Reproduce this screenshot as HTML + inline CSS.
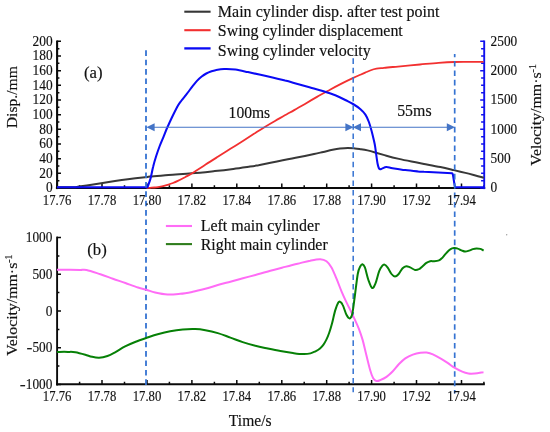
<!DOCTYPE html>
<html><head><meta charset="utf-8"><title>Cylinder displacement and velocity</title>
<style>html,body{margin:0;padding:0;background:#fff}svg{display:block}text{font-family:"Liberation Serif","Times New Roman",serif;fill:#111;stroke:#111;stroke-width:0.16px}</style></head><body>
<svg width="550" height="432" viewBox="0 0 550 432">
<rect width="550" height="432" fill="#fff"/>
<path d="M57.1 40.5 V189.1" stroke="#0a0a0a" stroke-width="2.1" fill="none"/>
<path d="M55.9 188.0 H485.2" stroke="#0a0a0a" stroke-width="2.2" fill="none"/>
<path d="M57.1 188.0h3.9M57.1 180.7h2.3M57.1 173.3h3.9M57.1 166.0h2.3M57.1 158.7h3.9M57.1 151.3h2.3M57.1 144.0h3.9M57.1 136.7h2.3M57.1 129.3h3.9M57.1 122.0h2.3M57.1 114.7h3.9M57.1 107.3h2.3M57.1 100.0h3.9M57.1 92.7h2.3M57.1 85.3h3.9M57.1 78.0h2.3M57.1 70.7h3.9M57.1 63.3h2.3M57.1 56.0h3.9M57.1 48.7h2.3M57.1 41.3h3.9M57.1 188.0v-4.4M79.6 188.0v-2.8M102.0 188.0v-4.4M124.5 188.0v-2.8M147.0 188.0v-4.4M169.4 188.0v-2.8M191.9 188.0v-4.4M214.4 188.0v-2.8M236.8 188.0v-4.4M259.3 188.0v-2.8M281.8 188.0v-4.4M304.2 188.0v-2.8M326.7 188.0v-4.4M349.1 188.0v-2.8M371.6 188.0v-4.4M394.1 188.0v-2.8M416.5 188.0v-4.4M439.0 188.0v-2.8M461.5 188.0v-4.4M483.9 188.0v-2.8" stroke="#0a0a0a" stroke-width="1.5" fill="none"/>
<path d="M484.2 40.5 V189.1" stroke="#1212ee" stroke-width="1.9" fill="none"/>
<path d="M484.2 188.0h-4.0M484.2 180.7h-3.1M484.2 173.3h-3.1M484.2 166.0h-3.1M484.2 158.7h-4.0M484.2 151.3h-3.1M484.2 144.0h-3.1M484.2 136.7h-3.1M484.2 129.3h-4.0M484.2 122.0h-3.1M484.2 114.7h-3.1M484.2 107.3h-3.1M484.2 100.0h-4.0M484.2 92.7h-3.1M484.2 85.3h-3.1M484.2 78.0h-3.1M484.2 70.7h-4.0M484.2 63.3h-3.1M484.2 56.0h-3.1M484.2 48.7h-3.1M484.2 41.3h-4.0" stroke="#1212ee" stroke-width="1.5" fill="none"/>
<path d="M57.1 236.6 V385.5" stroke="#0a0a0a" stroke-width="1.9" fill="none"/>
<path d="M56.1 384.3 H484.8" stroke="#0a0a0a" stroke-width="2.0" fill="none"/>
<path d="M57.1 384.5h3.9M57.1 366.1h2.3M57.1 347.8h3.9M57.1 329.4h2.3M57.1 311.0h3.9M57.1 292.6h2.3M57.1 274.2h3.9M57.1 255.9h2.3M57.1 237.5h3.9M57.1 384.5v-4.4M79.6 384.5v-2.8M102.0 384.5v-4.4M124.5 384.5v-2.8M147.0 384.5v-4.4M169.4 384.5v-2.8M191.9 384.5v-4.4M214.4 384.5v-2.8M236.8 384.5v-4.4M259.3 384.5v-2.8M281.8 384.5v-4.4M304.2 384.5v-2.8M326.7 384.5v-4.4M349.1 384.5v-2.8M371.6 384.5v-4.4M394.1 384.5v-2.8M416.5 384.5v-4.4M439.0 384.5v-2.8M461.5 384.5v-4.4M483.9 384.5v-2.8" stroke="#0a0a0a" stroke-width="1.5" fill="none"/>
<g fill="none" stroke-linejoin="round" stroke-linecap="butt">
<path d="M57.0 187.3L75.5 187.3L79.0 186.6C80.8 186.3 86.0 185.5 90.0 184.9C94.0 184.3 98.5 183.6 102.7 182.9C106.9 182.2 110.8 181.6 115.0 181.0C119.2 180.4 122.8 179.9 127.8 179.3C132.8 178.7 141.4 177.6 145.1 177.2C148.8 176.8 146.1 177.0 150.0 176.6C153.9 176.2 161.6 175.6 168.5 175.0C175.4 174.4 184.0 174.0 191.7 173.3C199.4 172.7 207.9 171.8 214.8 171.1C221.7 170.4 227.4 169.7 233.3 168.9C239.2 168.2 245.8 167.2 250.0 166.6C254.2 166.0 254.0 166.0 258.5 165.2C263.0 164.3 270.8 162.7 277.0 161.5C283.2 160.3 289.4 159.1 295.6 157.8C301.8 156.6 309.5 155.0 314.1 154.0C318.7 153.0 320.2 152.6 323.3 151.9C326.4 151.2 329.8 150.4 332.6 149.8C335.4 149.2 337.5 148.8 340.0 148.5C342.5 148.2 345.3 147.9 347.8 147.9C350.3 147.9 352.8 148.2 355.0 148.4C357.2 148.6 358.9 148.9 361.0 149.2C363.1 149.5 365.1 149.8 367.5 150.4C369.9 151.0 372.0 151.6 375.1 152.5C378.2 153.4 382.4 154.6 386.4 155.7C390.4 156.8 394.7 157.9 398.9 158.9C403.1 159.9 407.3 160.7 411.5 161.5C415.7 162.3 419.2 163.0 424.0 163.9C428.8 164.8 435.4 166.0 440.4 167.0C445.4 168.0 449.7 169.1 453.9 170.1C458.1 171.1 461.4 171.9 465.4 172.9C469.4 173.9 474.9 175.4 478.0 176.2C481.1 177.0 482.8 177.5 483.8 177.8" stroke="#383838" stroke-width="2.0"/>
<path d="M146.5 187.9C147.1 187.9 148.7 187.9 150.0 187.8C151.3 187.7 152.9 187.7 154.5 187.5C156.1 187.3 157.7 187.2 159.3 186.9C160.9 186.6 162.5 186.3 164.0 185.9C165.5 185.5 167.0 185.1 168.5 184.6C170.0 184.1 171.4 183.6 173.0 183.0C174.6 182.4 175.8 181.9 177.8 180.9C179.8 179.9 182.7 178.4 185.0 177.2C187.3 175.9 188.3 175.5 191.7 173.4C195.1 171.3 201.2 167.4 205.6 164.6C209.9 161.8 213.7 159.4 217.8 156.8C221.9 154.2 226.2 151.5 230.4 148.8C234.6 146.2 239.0 143.4 242.9 140.9C246.8 138.4 250.4 136.1 254.0 133.8C257.6 131.5 260.9 129.3 264.4 127.2C267.9 125.1 271.1 123.2 275.0 121.0C278.9 118.8 284.3 115.6 287.6 113.8C290.9 112.0 291.7 111.6 294.6 109.9C297.5 108.2 301.3 106.1 305.0 103.9C308.7 101.7 312.8 99.3 317.0 96.9C321.2 94.5 326.0 91.9 330.0 89.7C334.0 87.5 337.1 85.9 341.0 83.9C344.9 81.9 350.1 79.4 353.3 77.9C356.5 76.4 358.4 75.6 360.4 74.7C362.4 73.8 363.3 73.4 365.2 72.6C367.1 71.8 369.6 70.7 371.5 70.0C373.4 69.3 374.4 69.1 376.5 68.7C378.6 68.3 380.4 68.2 384.0 67.8C387.6 67.4 392.0 67.1 398.0 66.6C404.0 66.0 413.2 65.1 420.0 64.5C426.8 63.9 432.8 63.3 438.5 62.9C444.2 62.5 449.1 62.2 454.4 62.0C459.6 61.8 465.1 61.9 470.0 61.9C474.9 61.9 481.2 61.9 483.5 61.9" stroke="#f23030" stroke-width="1.8"/>
<path d="M57.0 187.3L146.6 187.3L147.4 187.3C147.9 185.9 149.5 182.1 150.5 178.6C151.5 175.1 152.2 170.3 153.2 166.5C154.1 162.7 155.1 159.4 156.2 156.0C157.3 152.6 158.5 149.2 159.7 146.0C160.9 142.8 162.3 139.7 163.6 136.6C164.9 133.5 165.8 130.8 167.4 127.3C169.0 123.8 171.2 118.9 173.0 115.3C174.8 111.7 176.6 108.1 178.0 105.6C179.4 103.1 180.3 102.1 181.5 100.5C182.7 98.9 183.8 97.8 185.0 96.2C186.2 94.6 187.7 92.8 189.0 91.0C190.3 89.2 191.6 87.3 193.0 85.6C194.4 83.9 195.8 82.1 197.2 80.6C198.6 79.1 200.2 77.7 201.7 76.5C203.2 75.3 204.8 74.3 206.3 73.5C207.8 72.7 209.4 72.0 210.9 71.5C212.4 71.0 213.4 70.6 215.6 70.2C217.8 69.8 220.8 69.2 224.1 69.1C227.4 69.0 231.4 69.1 235.4 69.6C239.4 70.1 243.7 71.2 247.9 72.1C252.1 73.0 256.4 73.9 260.5 74.8C264.6 75.7 268.4 76.6 272.5 77.6C276.6 78.6 280.9 79.5 285.1 80.6C289.3 81.6 293.4 82.8 297.6 83.9C301.8 85.1 306.0 86.3 310.2 87.5C314.4 88.7 318.5 89.8 322.7 91.1C326.9 92.4 331.5 93.8 335.3 95.3C339.1 96.8 342.4 98.5 345.3 100.0C348.2 101.5 350.5 102.5 353.0 104.0C355.5 105.5 358.4 107.4 360.5 109.2C362.6 111.0 364.0 112.5 365.4 114.6C366.8 116.7 367.9 119.3 368.9 122.0C369.9 124.7 370.8 128.0 371.6 131.0C372.4 134.0 373.2 137.4 373.8 140.0C374.4 142.6 374.7 143.8 375.1 146.3C375.5 148.8 375.9 152.2 376.3 155.1C376.7 158.0 377.2 161.7 377.6 163.8C378.0 166.0 378.4 167.1 378.8 168.0C379.2 168.9 379.6 169.1 380.1 169.2C380.6 169.3 380.9 169.0 382.0 168.6C383.1 168.2 384.6 167.1 386.4 167.0C388.2 166.9 389.5 167.7 392.6 168.2C395.7 168.7 401.0 169.6 405.2 170.1C409.4 170.6 414.6 171.1 417.7 171.4C420.8 171.7 422.9 171.7 424.0 171.8L424.0 171.8L452.2 173.2L452.9 174.5L454.9 187.0L455.6 187.3L484.0 187.3" stroke="#0a0af5" stroke-width="2.05"/>
</g>
<rect x="180" y="2" width="264" height="55.5" fill="#fff"/>
<g stroke="#3573d2" fill="none" stroke-dasharray="5.6 3.8">
<path d="M146.0 50.3V385.6" stroke-width="1.8"/>
<path d="M353.2 58.3V392.2" stroke-width="1.5"/>
<path d="M454.7 53.9V393.6" stroke-width="1.7" stroke-dashoffset="2.3"/>
</g>
<g fill="none" stroke-linejoin="round">
<path d="M57.0 269.7C59.2 269.7 66.2 269.6 70.0 269.7C73.8 269.8 77.2 269.9 80.0 270.0C82.8 270.1 83.2 269.3 86.6 270.0C90.0 270.7 96.0 272.8 100.4 274.2C104.8 275.6 108.7 277.2 112.9 278.7C117.1 280.2 121.2 281.5 125.4 283.0C129.6 284.5 134.5 286.4 138.0 287.5C141.5 288.6 143.5 289.0 146.3 289.8C149.2 290.6 151.6 291.7 155.1 292.5C158.6 293.3 163.4 294.3 167.6 294.5C171.8 294.7 176.0 294.2 180.2 293.8C184.4 293.4 188.5 292.6 192.7 291.8C196.9 291.0 201.1 289.9 205.3 288.8C209.5 287.7 213.6 286.2 217.8 285.0C222.0 283.8 226.2 282.8 230.4 281.7C234.6 280.6 238.7 279.3 242.9 278.2C247.1 277.1 251.2 276.1 255.4 275.0C259.6 273.9 263.1 272.9 268.0 271.5C272.9 270.1 280.2 268.2 285.1 266.9C290.0 265.6 293.4 264.7 297.6 263.7C301.8 262.7 306.4 261.4 310.2 260.7C314.0 259.9 317.5 259.1 320.2 259.2C322.9 259.3 324.6 259.8 326.5 261.2C328.4 262.6 329.8 264.5 331.5 267.4C333.2 270.3 334.8 274.7 336.5 278.7C338.2 282.7 339.8 287.3 341.5 291.3C343.2 295.3 345.0 299.2 346.6 302.6C348.2 306.0 349.8 309.0 351.0 311.5C352.2 314.0 352.7 314.9 354.0 317.8C355.3 320.7 357.4 325.1 358.9 328.8C360.3 332.5 361.4 335.7 362.7 340.1C363.9 344.5 365.1 350.2 366.4 355.2C367.6 360.2 369.1 366.4 370.2 370.2C371.3 374.0 372.2 376.4 373.2 378.2C374.2 380.0 375.2 380.7 376.4 381.0C377.6 381.3 378.5 380.9 380.2 380.2C381.9 379.5 384.4 378.4 386.5 376.9C388.6 375.4 390.7 373.3 392.8 371.2C394.9 369.1 396.9 366.1 399.0 364.0C401.1 361.9 403.0 360.0 405.3 358.4C407.6 356.8 410.3 355.5 412.8 354.6C415.3 353.7 418.1 353.1 420.4 352.8C422.7 352.5 424.5 352.3 426.6 352.6C428.7 352.9 430.6 353.4 432.9 354.4C435.2 355.4 437.9 356.9 440.4 358.4C442.9 359.8 445.7 361.6 448.0 363.1C450.3 364.7 452.0 366.3 454.4 367.7C456.8 369.1 459.9 370.7 462.2 371.7C464.5 372.7 466.3 373.2 468.4 373.5C470.5 373.8 472.2 373.7 474.7 373.5C477.2 373.3 482.0 372.4 483.5 372.2" stroke="#ff6cf6" stroke-width="2"/>
<path d="M57.0 351.9C58.8 351.9 65.0 351.8 68.0 351.9C71.0 351.9 72.4 351.7 75.3 352.2C78.2 352.7 82.5 353.9 85.3 354.7C88.1 355.5 89.7 356.3 92.0 356.8C94.3 357.3 96.5 357.8 99.1 357.7C101.7 357.6 104.8 356.9 107.5 356.0C110.2 355.1 112.2 353.9 115.1 352.3C118.0 350.7 121.8 348.1 125.1 346.4C128.4 344.7 131.6 343.4 135.1 342.0C138.6 340.6 142.4 339.3 146.2 338.0C150.0 336.7 153.7 335.3 157.7 334.2C161.7 333.1 166.0 332.0 170.2 331.2C174.4 330.4 178.6 329.8 182.8 329.4C187.0 329.0 191.5 328.9 195.3 329.0C199.1 329.1 201.7 329.5 205.4 330.2C209.2 330.9 213.6 331.9 217.8 333.1C222.0 334.3 226.2 336.1 230.4 337.6C234.6 339.1 238.5 340.7 242.7 342.1C246.8 343.5 251.1 344.7 255.3 345.8C259.5 346.9 263.6 347.7 267.8 348.6C272.0 349.5 276.2 350.4 280.4 351.1C284.6 351.9 289.1 352.6 292.9 353.1C296.6 353.6 300.0 354.1 302.9 354.1C305.8 354.2 308.4 353.9 310.5 353.4C312.6 352.9 313.9 352.1 315.5 351.3C317.1 350.5 318.7 349.5 320.0 348.4C321.3 347.3 322.4 346.1 323.5 344.6C324.6 343.1 325.5 341.4 326.5 339.4C327.5 337.4 328.4 335.1 329.3 332.5C330.2 329.9 331.0 327.2 332.0 323.5C333.0 319.8 334.2 313.6 335.3 310.1C336.4 306.6 337.5 304.0 338.3 302.6C339.1 301.2 339.6 301.4 340.3 301.8C341.1 302.2 341.8 302.9 342.8 305.1C343.9 307.3 345.4 312.9 346.6 315.1C347.8 317.3 348.9 318.6 349.8 318.4C350.8 318.2 351.5 317.5 352.3 313.8C353.1 310.1 353.9 303.0 354.8 296.3C355.7 289.6 356.9 278.7 357.8 273.7C358.7 268.7 359.6 267.8 360.4 266.2C361.2 264.6 361.6 264.0 362.4 264.2C363.1 264.4 363.9 264.8 364.9 267.4C365.9 270.0 367.2 276.6 368.4 280.0C369.6 283.4 370.9 287.4 372.1 288.0C373.3 288.6 374.2 286.5 375.4 283.7C376.6 280.9 378.0 274.2 379.2 271.2C380.4 268.2 381.5 266.8 382.4 265.7C383.3 264.6 383.6 264.3 384.5 264.6C385.4 264.9 386.5 266.0 387.7 267.6C388.9 269.2 390.3 272.5 391.5 274.0C392.7 275.5 393.8 276.5 395.0 276.5C396.2 276.5 397.2 275.6 398.5 274.2C399.8 272.8 401.3 269.5 402.6 268.2C403.9 266.9 405.1 266.3 406.3 266.2C407.6 266.1 408.6 266.8 410.1 267.4C411.6 268.0 413.6 269.6 415.1 269.9C416.6 270.2 417.6 269.8 418.9 269.2C420.1 268.6 421.4 267.2 422.6 266.2C423.9 265.1 425.1 263.7 426.4 262.9C427.7 262.1 428.9 261.5 430.2 261.2C431.4 260.9 432.4 261.3 433.9 261.2C435.4 261.1 437.5 261.0 439.0 260.4C440.5 259.8 441.4 258.6 442.7 257.4C443.9 256.1 445.2 254.2 446.5 252.9C447.8 251.6 448.9 250.2 450.2 249.4C451.4 248.6 452.7 248.2 454.0 248.1C455.3 248.0 456.6 248.2 457.8 248.6C459.1 249.0 460.2 249.9 461.5 250.4C462.8 250.9 464.0 251.6 465.3 251.6C466.6 251.6 467.9 251.0 469.1 250.6C470.4 250.2 471.6 249.5 472.8 249.1C474.1 248.7 475.3 248.4 476.6 248.4C477.9 248.4 479.2 248.5 480.4 248.9C481.6 249.3 483.1 250.3 483.6 250.6" stroke="#068006" stroke-width="2.0"/>
</g>
<g stroke="#4474c6" stroke-width="1.0" fill="none"><path d="M150 127.25H349"/><path d="M358 127.25H451"/></g>
<path d="M146.4 127.2L154.6 123.3L154.6 131.2Z" fill="#4474c6"/>
<path d="M353.6 127.2L345.4 123.3L345.4 131.2Z" fill="#4474c6"/>
<path d="M352.8 127.2L361.0 123.3L361.0 131.2Z" fill="#4474c6"/>
<path d="M455.0 127.2L446.8 123.3L446.8 131.2Z" fill="#4474c6"/>
<path d="M184.3 11.7H210.6" stroke="#363636" stroke-width="2.1"/>
<path d="M184.3 30.2H210.6" stroke="#f23030" stroke-width="2.1"/>
<path d="M184.3 48.4H210.6" stroke="#0a0af5" stroke-width="2.3"/>
<text x="217.8" y="16.7" font-size="16.4" text-anchor="start" textLength="221.7" lengthAdjust="spacingAndGlyphs">Main cylinder disp. after test point</text>
<text x="217.8" y="35.8" font-size="16.4" text-anchor="start" textLength="185.0" lengthAdjust="spacingAndGlyphs">Swing cylinder displacement</text>
<text x="217.8" y="55.5" font-size="16.4" text-anchor="start" textLength="153.0" lengthAdjust="spacingAndGlyphs">Swing cylinder velocity</text>
<path d="M165.9 226.0H192.0" stroke="#ff6cf6" stroke-width="2.1"/>
<path d="M165.9 244.1H192.0" stroke="#2f7d1c" stroke-width="2.1"/>
<text x="200.7" y="230.6" font-size="16.4" text-anchor="start" textLength="118.8" lengthAdjust="spacingAndGlyphs">Left main cylinder</text>
<text x="200.7" y="249.9" font-size="16.4" text-anchor="start" textLength="127.0" lengthAdjust="spacingAndGlyphs">Right main cylinder</text>
<text x="52.6" y="192.3" font-size="14.9" text-anchor="end" textLength="6.7" lengthAdjust="spacingAndGlyphs">0</text>
<text x="52.6" y="177.6" font-size="14.9" text-anchor="end" textLength="13.4" lengthAdjust="spacingAndGlyphs">20</text>
<text x="52.6" y="163.0" font-size="14.9" text-anchor="end" textLength="13.4" lengthAdjust="spacingAndGlyphs">40</text>
<text x="52.6" y="148.3" font-size="14.9" text-anchor="end" textLength="13.4" lengthAdjust="spacingAndGlyphs">60</text>
<text x="52.6" y="133.6" font-size="14.9" text-anchor="end" textLength="13.4" lengthAdjust="spacingAndGlyphs">80</text>
<text x="52.6" y="119.0" font-size="14.9" text-anchor="end" textLength="20.1" lengthAdjust="spacingAndGlyphs">100</text>
<text x="52.6" y="104.3" font-size="14.9" text-anchor="end" textLength="20.1" lengthAdjust="spacingAndGlyphs">120</text>
<text x="52.6" y="89.6" font-size="14.9" text-anchor="end" textLength="20.1" lengthAdjust="spacingAndGlyphs">140</text>
<text x="52.6" y="75.0" font-size="14.9" text-anchor="end" textLength="20.1" lengthAdjust="spacingAndGlyphs">160</text>
<text x="52.6" y="60.3" font-size="14.9" text-anchor="end" textLength="20.1" lengthAdjust="spacingAndGlyphs">180</text>
<text x="52.6" y="45.6" font-size="14.9" text-anchor="end" textLength="20.1" lengthAdjust="spacingAndGlyphs">200</text>
<text x="490.6" y="192.2" font-size="14.9" text-anchor="start" textLength="6.7" lengthAdjust="spacingAndGlyphs">0</text>
<text x="490.6" y="162.9" font-size="14.9" text-anchor="start" textLength="20.0" lengthAdjust="spacingAndGlyphs">500</text>
<text x="490.6" y="133.6" font-size="14.9" text-anchor="start" textLength="26.6" lengthAdjust="spacingAndGlyphs">1000</text>
<text x="490.6" y="104.3" font-size="14.9" text-anchor="start" textLength="26.6" lengthAdjust="spacingAndGlyphs">1500</text>
<text x="490.6" y="74.9" font-size="14.9" text-anchor="start" textLength="26.6" lengthAdjust="spacingAndGlyphs">2000</text>
<text x="490.6" y="45.6" font-size="14.9" text-anchor="start" textLength="26.6" lengthAdjust="spacingAndGlyphs">2500</text>
<text x="57.1" y="205.0" font-size="15.1" text-anchor="middle" textLength="28.6" lengthAdjust="spacingAndGlyphs">17.76</text>
<text x="57.1" y="401.3" font-size="15.1" text-anchor="middle" textLength="28.6" lengthAdjust="spacingAndGlyphs">17.76</text>
<text x="102.0" y="205.0" font-size="15.1" text-anchor="middle" textLength="28.6" lengthAdjust="spacingAndGlyphs">17.78</text>
<text x="102.0" y="401.3" font-size="15.1" text-anchor="middle" textLength="28.6" lengthAdjust="spacingAndGlyphs">17.78</text>
<text x="147.0" y="205.0" font-size="15.1" text-anchor="middle" textLength="28.6" lengthAdjust="spacingAndGlyphs">17.80</text>
<text x="147.0" y="401.3" font-size="15.1" text-anchor="middle" textLength="28.6" lengthAdjust="spacingAndGlyphs">17.80</text>
<text x="191.9" y="205.0" font-size="15.1" text-anchor="middle" textLength="28.6" lengthAdjust="spacingAndGlyphs">17.82</text>
<text x="191.9" y="401.3" font-size="15.1" text-anchor="middle" textLength="28.6" lengthAdjust="spacingAndGlyphs">17.82</text>
<text x="236.8" y="205.0" font-size="15.1" text-anchor="middle" textLength="28.6" lengthAdjust="spacingAndGlyphs">17.84</text>
<text x="236.8" y="401.3" font-size="15.1" text-anchor="middle" textLength="28.6" lengthAdjust="spacingAndGlyphs">17.84</text>
<text x="281.8" y="205.0" font-size="15.1" text-anchor="middle" textLength="28.6" lengthAdjust="spacingAndGlyphs">17.86</text>
<text x="281.8" y="401.3" font-size="15.1" text-anchor="middle" textLength="28.6" lengthAdjust="spacingAndGlyphs">17.86</text>
<text x="326.7" y="205.0" font-size="15.1" text-anchor="middle" textLength="28.6" lengthAdjust="spacingAndGlyphs">17.88</text>
<text x="326.7" y="401.3" font-size="15.1" text-anchor="middle" textLength="28.6" lengthAdjust="spacingAndGlyphs">17.88</text>
<text x="371.6" y="205.0" font-size="15.1" text-anchor="middle" textLength="28.6" lengthAdjust="spacingAndGlyphs">17.90</text>
<text x="371.6" y="401.3" font-size="15.1" text-anchor="middle" textLength="28.6" lengthAdjust="spacingAndGlyphs">17.90</text>
<text x="416.5" y="205.0" font-size="15.1" text-anchor="middle" textLength="28.6" lengthAdjust="spacingAndGlyphs">17.92</text>
<text x="416.5" y="401.3" font-size="15.1" text-anchor="middle" textLength="28.6" lengthAdjust="spacingAndGlyphs">17.92</text>
<text x="461.5" y="205.0" font-size="15.1" text-anchor="middle" textLength="28.6" lengthAdjust="spacingAndGlyphs">17.94</text>
<text x="461.5" y="401.3" font-size="15.1" text-anchor="middle" textLength="28.6" lengthAdjust="spacingAndGlyphs">17.94</text>
<text x="19.8" y="389.0" font-size="15.0" text-anchor="start"><tspan textLength="5.9" lengthAdjust="spacingAndGlyphs">-</tspan><tspan dx="0.1" textLength="26.6" lengthAdjust="spacingAndGlyphs">1000</tspan></text>
<text x="26.4" y="352.2" font-size="15.0" text-anchor="start"><tspan textLength="5.9" lengthAdjust="spacingAndGlyphs">-</tspan><tspan dx="0.1" textLength="20.0" lengthAdjust="spacingAndGlyphs">500</tspan></text>
<text x="52.4" y="315.5" font-size="15.0" text-anchor="end" textLength="6.7" lengthAdjust="spacingAndGlyphs">0</text>
<text x="52.4" y="278.8" font-size="15.0" text-anchor="end" textLength="20.0" lengthAdjust="spacingAndGlyphs">500</text>
<text x="52.4" y="242.0" font-size="15.0" text-anchor="end" textLength="26.6" lengthAdjust="spacingAndGlyphs">1000</text>
<text x="84.0" y="78.4" font-size="16.0" text-anchor="start" textLength="18.6" lengthAdjust="spacingAndGlyphs">(a)</text>
<text x="87.3" y="254.9" font-size="16.0" text-anchor="start" textLength="19.5" lengthAdjust="spacingAndGlyphs">(b)</text>
<text x="228.6" y="117.8" font-size="16.3" text-anchor="start" textLength="41.6" lengthAdjust="spacingAndGlyphs">100ms</text>
<text x="397.2" y="115.6" font-size="16.4" text-anchor="start" textLength="34.4" lengthAdjust="spacingAndGlyphs">55ms</text>
<text x="250.2" y="426.0" font-size="16.4" text-anchor="middle" textLength="42.7" lengthAdjust="spacingAndGlyphs">Time/s</text>
<text transform="translate(17.4 97.2) rotate(-90)" font-size="15.6" text-anchor="middle" textLength="62.0" lengthAdjust="spacingAndGlyphs">Disp./mm</text>
<text transform="translate(17.2 305.2) rotate(-90)" font-size="15.5" text-anchor="middle" textLength="101.3" lengthAdjust="spacingAndGlyphs">Velocity/mm·s<tspan font-size="9.6" dy="-5.4">-1</tspan></text>
<text transform="translate(541.2 115.0) rotate(-90)" font-size="15.5" text-anchor="middle" textLength="101.6" lengthAdjust="spacingAndGlyphs">Velocity/mm·s<tspan font-size="9.6" dy="-5.4">-1</tspan></text>
<circle cx="506.7" cy="234.8" r="0.7" fill="#9a9a9a"/>
</svg></body></html>
